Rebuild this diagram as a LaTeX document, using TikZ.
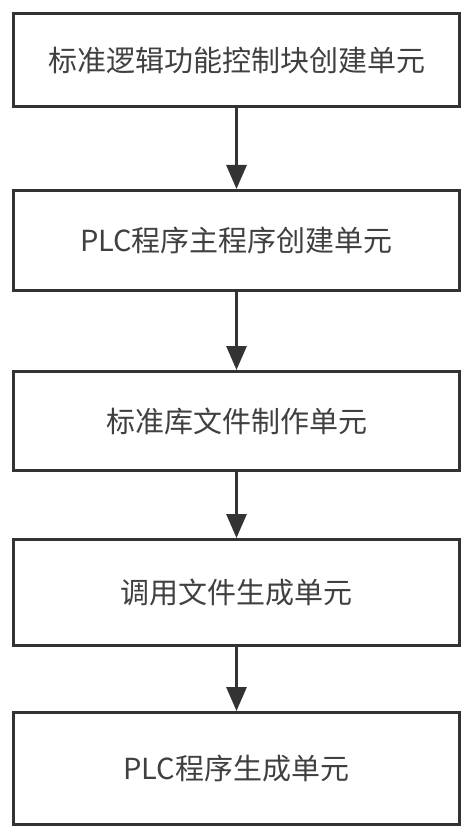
\documentclass[tikz,border=0pt]{standalone}
\usepackage{fontspec}
\setmainfont{Noto Sans CJK SC}
\usepackage{tikz}
\usetikzlibrary{arrows.meta}
\definecolor{boxline}{rgb}{0.2, 0.2, 0.2}
\definecolor{boxtext}{rgb}{0.25, 0.25, 0.25}
\tikzstyle{unitbox}=[rectangle, draw=boxline, line width=1.5pt, fill=white,
  minimum width=223pt, inner sep=0pt, text=boxtext, font=\fontsize{14.5pt}{17pt}\selectfont]
\tikzstyle{flow}=[draw=boxline, line width=1.5pt, -{Triangle[width=10pt,length=12pt]}]

\begin{document}
\begin{tikzpicture}[x=0.5pt, y=0.5pt]
    \useasboundingbox (0,0) rectangle (474,-839);
    % the five units, one under another
    \foreach \i/\yc/\h/\txt in {1/60/46.5/标准逻辑功能控制块创建单元,
                                2/240.5/50/PLC程序主程序创建单元,
                                3/421/49.5/标准库文件制作单元,
                                4/592.5/53/调用文件生成单元,
                                5/768.5/56/PLC程序生成单元}{
      \node[unitbox, minimum height=\h pt] (u\i) at (236.5,-\yc) {\txt};
    }
    % arrows between the units
    \foreach \i/\j in {1/2, 2/3, 3/4, 4/5}{
      \draw[flow] (u\i) -- (u\j);
    }
  \end{tikzpicture}
\end{document}
